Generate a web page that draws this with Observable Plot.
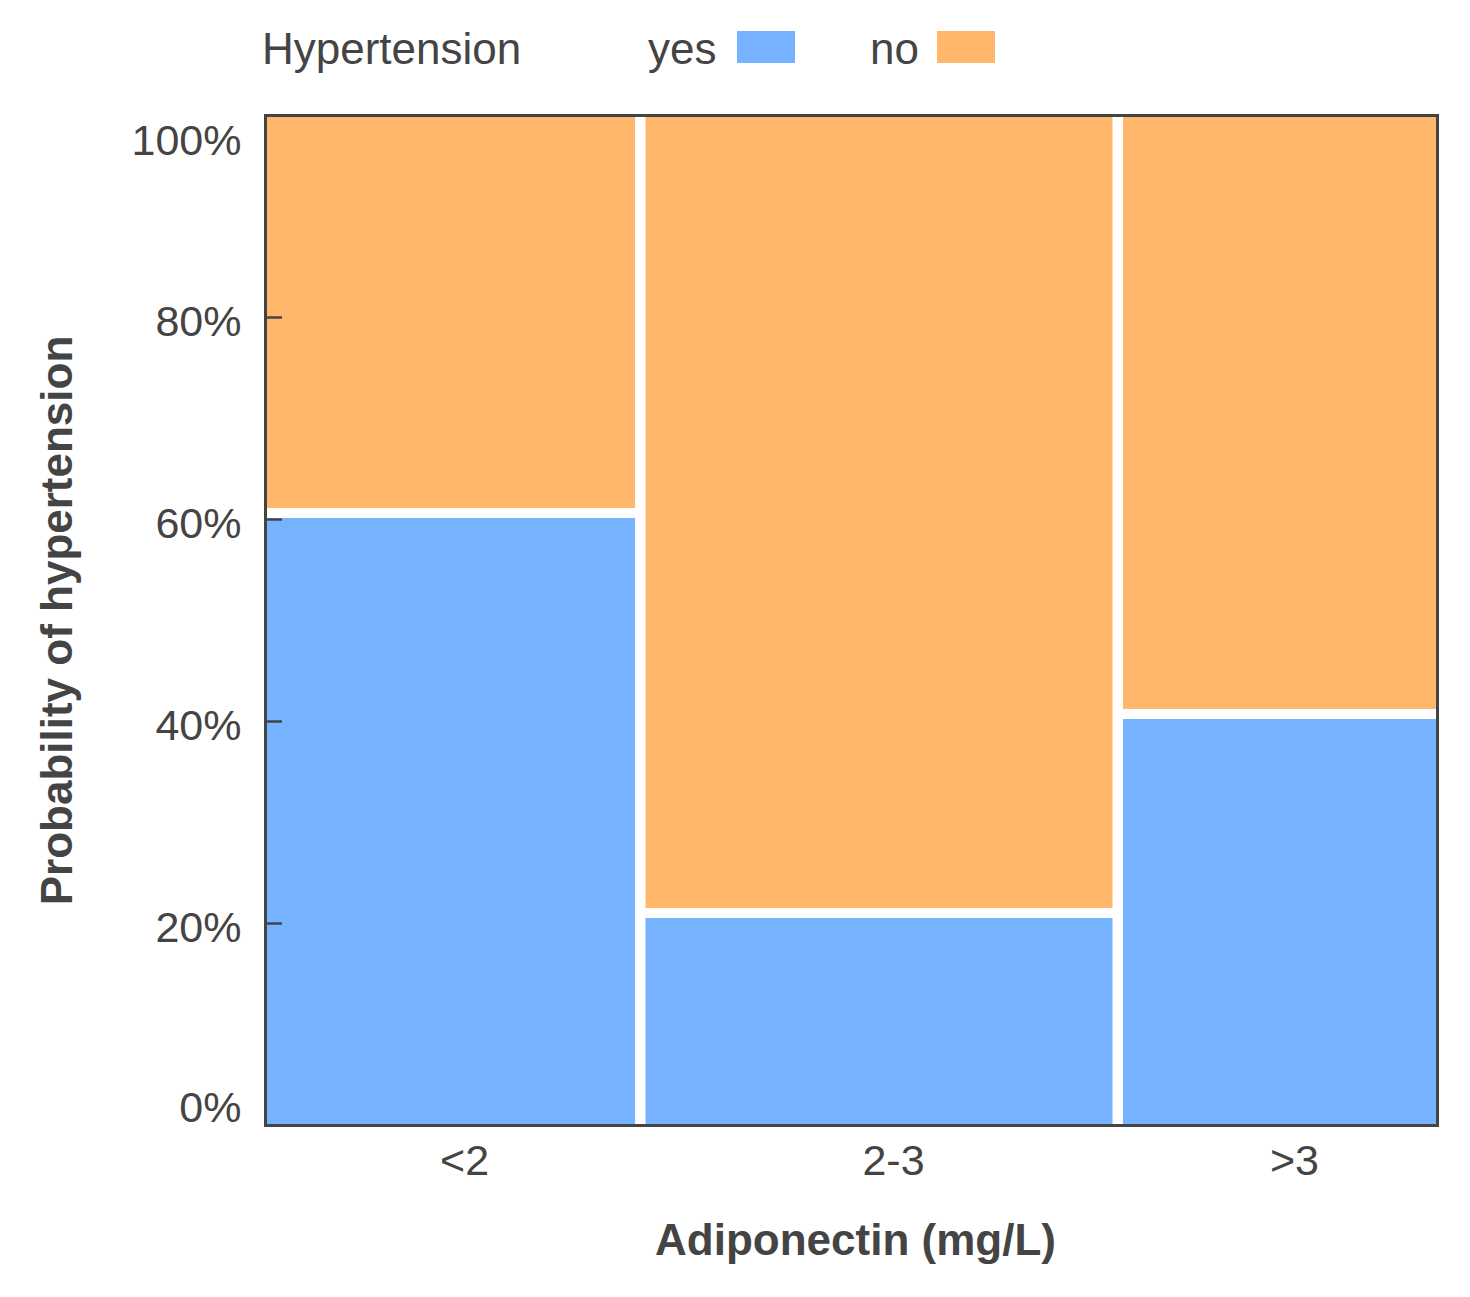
<!DOCTYPE html>
<html>
<head>
<meta charset="utf-8">
<script src="https://cdn.jsdelivr.net/npm/d3@7"></script>
<script src="https://cdn.jsdelivr.net/npm/@observablehq/plot@0.6"></script>
<style>
  body { margin: 0; background: #fff; font-family: "Liberation Sans", Arial, sans-serif; color: #444; }
  #legend { position: relative; width: 1470px; height: 90px; font-size: 44px; line-height: 1; }
  #legend span { position: absolute; top: 27px; white-space: nowrap; }
  #legend .sw { position: absolute; top: 31px; width: 58px; height: 32px; }
  svg { display: block; }
</style>
</head>
<body>
<div id="legend"></div>
<div id="chart"></div>
<script>
// ---- data ----
const groups = ["<2", "2-3", ">3"];
const groupShare = [0.3215, 0.4057, 0.2728];   // share of subjects (bar widths)
const yesShare = [0.607, 0.207, 0.406];        // probability of hypertension
const levels = ["yes", "no"];
const levelColors = ["#75B2FF", "#FFB86B"];
const yTicks = [0, 0.2, 0.4, 0.6, 0.8, 1];
const legendTitle = "Hypertension";
const xTitle = "Adiponectin (mg/L)";
const yTitle = "Probability of hypertension";

// ---- mosaic layout from data ----
const gapX = 0.0091, gapY = 0.01;
let acc = 0;
const bars = groups.map((g, i) => {
  const r = {group: g, x1: acc, x2: acc + groupShare[i], mid: acc + groupShare[i] / 2};
  acc += groupShare[i] + gapX;
  return r;
});
const cells = bars.flatMap((b, i) => {
  const h = yesShare[i] * (1 - gapY);
  return [
    {...b, level: levels[0], y1: 0, y2: h},
    {...b, level: levels[1], y1: h + gapY, y2: 1}
  ];
});
const xMax = groupShare.reduce((a, b) => a + b, 0) + gapX * (groups.length - 1);

// ---- legend ----
const legend = document.getElementById("legend");
const addSpan = (txt, left) => { const s = document.createElement("span"); s.textContent = txt; s.style.left = left + "px"; legend.appendChild(s); };
const addSw = (col, left) => { const d = document.createElement("div"); d.className = "sw"; d.style.background = col; d.style.left = left + "px"; legend.appendChild(d); };
addSpan(legendTitle, 262);
addSpan(levels[0], 648); addSw(levelColors[0], 737);
addSpan(levels[1], 870); addSw(levelColors[1], 937);

const pct = d => `${Math.round(d * 100)}%`;
const txtColor = "#444";

const chart = Plot.plot({
  width: 1470,
  height: 1207,
  marginTop: 25,
  marginBottom: 172,
  marginLeft: 265,
  marginRight: 33,
  style: {fontFamily: "'Liberation Sans', Arial, sans-serif", fontSize: "43px", color: txtColor, background: "#fff"},
  x: {domain: [0, xMax], axis: null},
  y: {domain: [0, 1], axis: null},
  color: {domain: levels, range: levelColors},
  marks: [
    Plot.rect(cells, {x1: "x1", x2: "x2", y1: "y1", y2: "y2", fill: "level"}),
    Plot.frame({stroke: "#444", strokeWidth: 3}),
    Plot.axisY({ticks: yTicks, tickSize: 17, dx: 17, fill: "none", stroke: "#444", strokeWidth: 2.5, label: null}),
    Plot.axisY({ticks: [0.2, 0.4, 0.6, 0.8], tickSize: 0, tickPadding: 24, dy: 5, tickFormat: pct, fill: txtColor, label: null}),
    Plot.axisY({ticks: [0], tickSize: 0, tickPadding: 24, dy: -17, tickFormat: pct, fill: txtColor, label: null}),
    Plot.axisY({ticks: [1], tickSize: 0, tickPadding: 24, dy: 26, tickFormat: pct, fill: txtColor, label: null}),
    Plot.text(bars, {x: "mid", text: "group", frameAnchor: "bottom", lineAnchor: "middle", dy: 36, dx: 14, fill: txtColor, fontSize: 43}),
    Plot.text([xTitle], {frameAnchor: "bottom", lineAnchor: "middle", textAnchor: "middle", dy: 115, dx: 4, fontWeight: "bold", fontSize: 44, fill: txtColor}),
    Plot.text([yTitle], {frameAnchor: "left", textAnchor: "middle", lineAnchor: "middle", rotate: -90, dx: -208, fontWeight: "bold", fontSize: 44, fill: txtColor})
  ]
});
document.getElementById("chart").appendChild(chart);
</script>
</body>
</html>
